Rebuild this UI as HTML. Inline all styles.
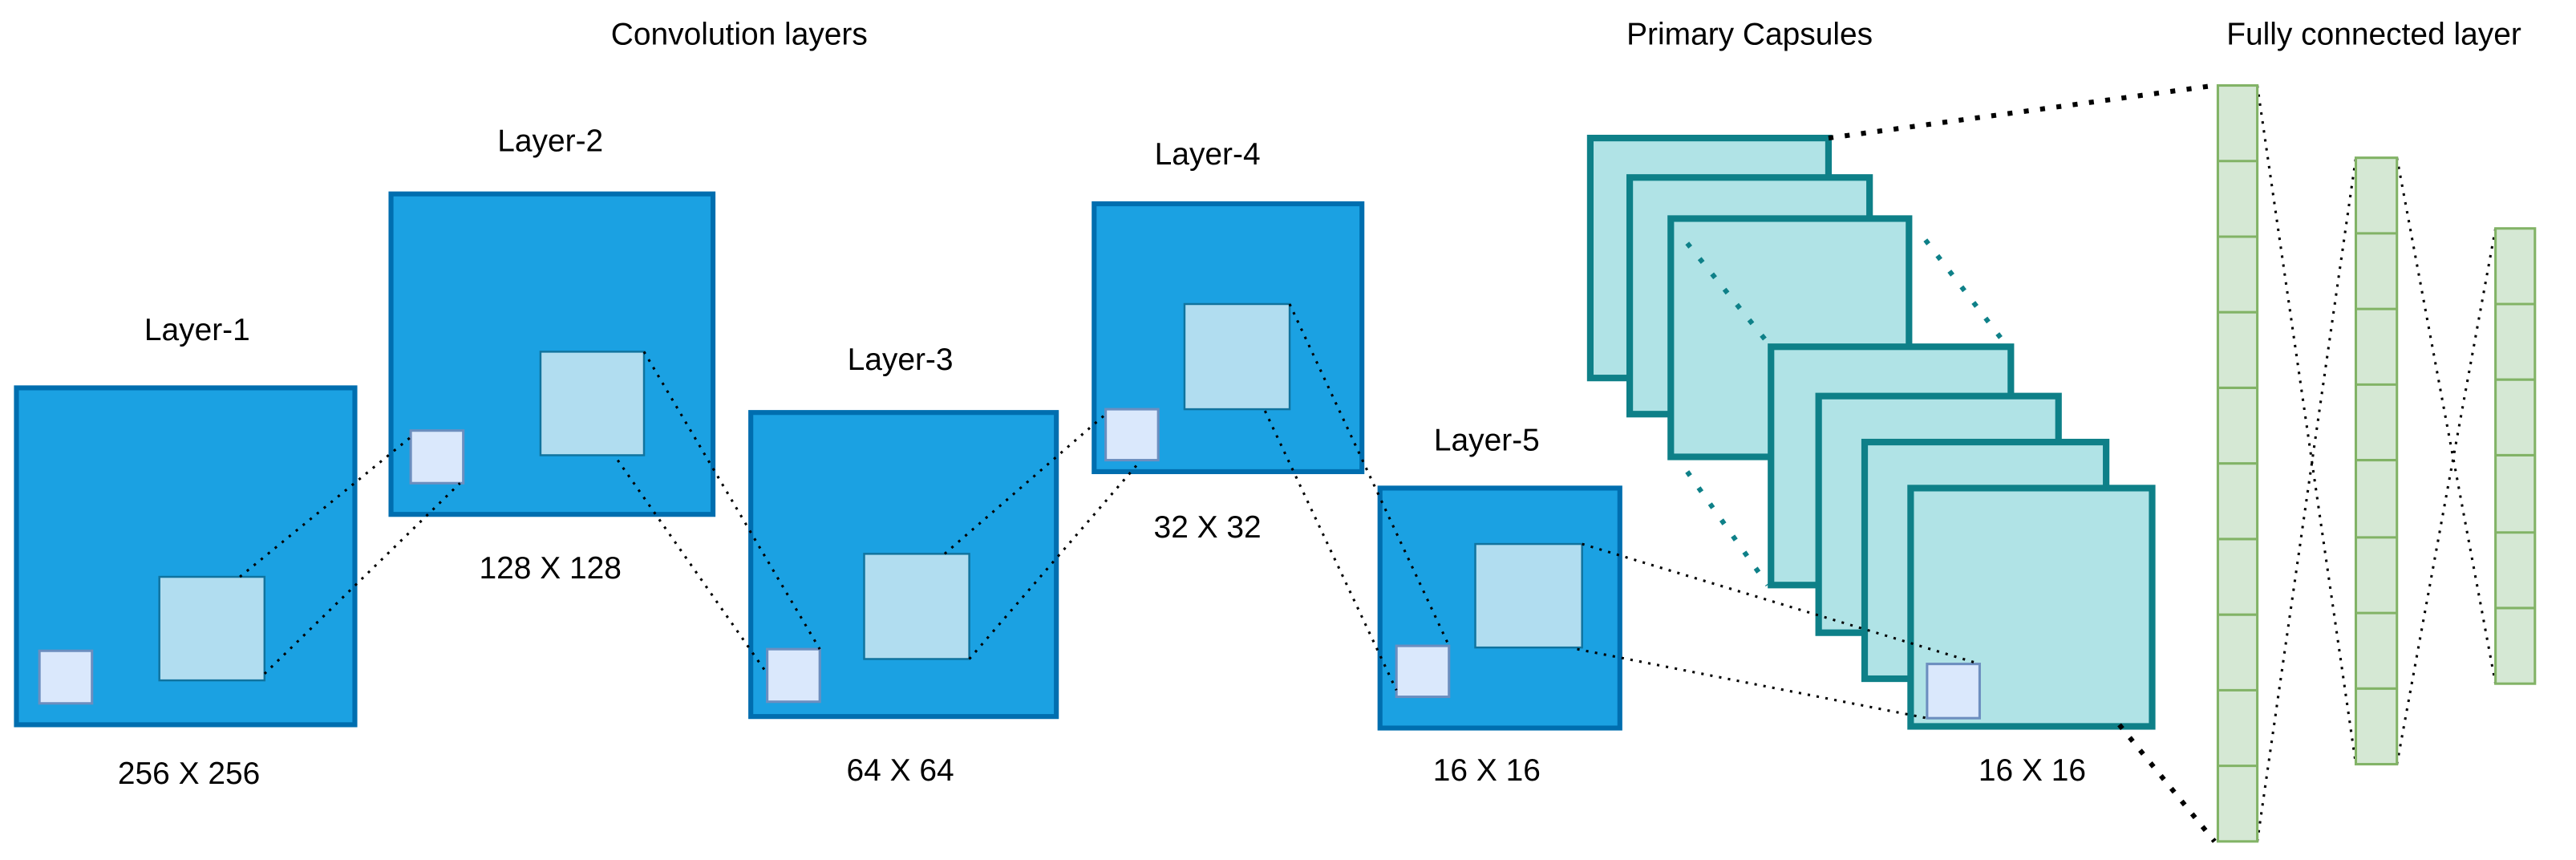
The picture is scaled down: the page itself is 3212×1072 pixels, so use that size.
<!DOCTYPE html>
<html><head><meta charset="utf-8"><style>html,body{margin:0;padding:0;background:#fff}svg{display:block}</style></head>
<body>
<svg width="3212" height="1072" viewBox="0 0 1568 523.3" preserveAspectRatio="none" xmlns="http://www.w3.org/2000/svg" font-family="Liberation Sans, sans-serif" font-size="19" text-anchor="middle">
<g fill="#1ba1e2" stroke="#006eaf" stroke-width="3">
<rect x="10" y="236" width="206" height="205"/>
<rect x="238" y="118" width="196" height="195"/>
<rect x="457" y="251" width="186" height="185"/>
<rect x="666" y="124" width="163" height="163"/>
<rect x="840" y="297" width="146" height="146"/>
</g>
<g fill="#b1ddf0" stroke="#10739e" stroke-width="1.2">
<rect x="97" y="351" width="64" height="63"/>
<rect x="329" y="214" width="63" height="63"/>
<rect x="526" y="337" width="64" height="64"/>
<rect x="721" y="185" width="64" height="64"/>
<rect x="898" y="331" width="65" height="63"/>
</g>
<g fill="#b0e3e6" stroke="#0e8088" stroke-width="4">
<rect x="968" y="84" width="145" height="146"/>
<rect x="992" y="108" width="146" height="144"/>
<rect x="1017" y="133" width="145" height="145"/>
<rect x="1078" y="211" width="146" height="145"/>
<rect x="1107" y="241" width="146" height="144"/>
<rect x="1135" y="269" width="147" height="144"/>
<rect x="1163" y="297" width="147" height="145"/>
</g>
<g fill="#dae8fc" stroke="#6c8ebf" stroke-width="1.5">
<rect x="24" y="396" width="32" height="32"/>
<rect x="250" y="262" width="32" height="32"/>
<rect x="467" y="395" width="32" height="32"/>
<rect x="673" y="249" width="32" height="31"/>
<rect x="850" y="393" width="32" height="31"/>
<rect x="1173" y="404" width="32" height="33"/>
</g>
<g stroke="#000" stroke-width="1.5" stroke-dasharray="1.5 4" fill="none">
<line x1="146" y1="351" x2="250" y2="266"/>
<line x1="161" y1="410" x2="280" y2="294"/>
<line x1="392" y1="214" x2="499" y2="395"/>
<line x1="376" y1="280" x2="467" y2="410"/>
<line x1="575" y1="337" x2="673" y2="252"/>
<line x1="590" y1="401" x2="692" y2="283"/>
<line x1="785" y1="185" x2="882" y2="393"/>
<line x1="770" y1="250" x2="850" y2="420"/>
<line x1="963" y1="331" x2="1205" y2="404"/>
<line x1="960" y1="395" x2="1173" y2="437"/>
<line x1="1374" y1="52" x2="1434" y2="465"/>
<line x1="1374" y1="512" x2="1434" y2="96"/>
<line x1="1459" y1="96" x2="1519" y2="416"/>
<line x1="1459" y1="465" x2="1519" y2="139"/>
</g>
<g stroke="#000" stroke-width="3" stroke-dasharray="3 7" fill="none">
<line x1="1113" y1="84" x2="1348" y2="52"/>
<line x1="1290" y1="441" x2="1348" y2="512"/>
</g>
<g stroke="#0e8088" stroke-width="3" stroke-dasharray="3 9" fill="none">
<line x1="1027" y1="148" x2="1078" y2="211"/>
<line x1="1172" y1="146" x2="1222" y2="211"/>
<line x1="1027" y1="287" x2="1076" y2="356"/>
</g>
<g fill="#d5e8d4" stroke="#82b366" stroke-width="1.5">
<rect x="1350" y="52" width="24" height="460"/>
<rect x="1434" y="96" width="25" height="369"/>
<rect x="1519" y="139" width="24" height="277"/>
</g>
<g stroke="#82b366" stroke-width="1.5">
<line x1="1350" y1="98" x2="1374" y2="98"/><line x1="1350" y1="144" x2="1374" y2="144"/><line x1="1350" y1="190" x2="1374" y2="190"/><line x1="1350" y1="236" x2="1374" y2="236"/><line x1="1350" y1="282" x2="1374" y2="282"/><line x1="1350" y1="328" x2="1374" y2="328"/><line x1="1350" y1="374" x2="1374" y2="374"/><line x1="1350" y1="420" x2="1374" y2="420"/><line x1="1350" y1="466" x2="1374" y2="466"/>
<line x1="1434" y1="142" x2="1459" y2="142"/><line x1="1434" y1="188" x2="1459" y2="188"/><line x1="1434" y1="234" x2="1459" y2="234"/><line x1="1434" y1="280" x2="1459" y2="280"/><line x1="1434" y1="327" x2="1459" y2="327"/><line x1="1434" y1="373" x2="1459" y2="373"/><line x1="1434" y1="419" x2="1459" y2="419"/>
<line x1="1519" y1="185" x2="1543" y2="185"/><line x1="1519" y1="231" x2="1543" y2="231"/><line x1="1519" y1="277" x2="1543" y2="277"/><line x1="1519" y1="324" x2="1543" y2="324"/><line x1="1519" y1="370" x2="1543" y2="370"/>
</g>
<g fill="#000">
<text x="450" y="27">Convolution layers</text>
<text x="1065" y="27">Primary Capsules</text>
<text x="1445" y="27">Fully connected layer</text>
<text x="120" y="207">Layer-1</text>
<text x="335" y="92">Layer-2</text>
<text x="548" y="225">Layer-3</text>
<text x="735" y="100">Layer-4</text>
<text x="905" y="274">Layer-5</text>
<text x="115" y="477">256 X 256</text>
<text x="335" y="352">128 X 128</text>
<text x="548" y="475">64 X 64</text>
<text x="735" y="327">32 X 32</text>
<text x="905" y="475">16 X 16</text>
<text x="1237" y="475">16 X 16</text>
</g>
</svg>
</body></html>
